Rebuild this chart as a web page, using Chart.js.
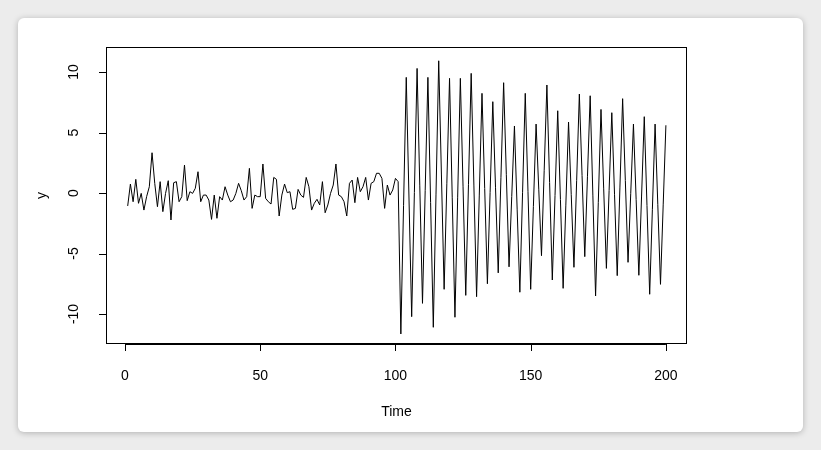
<!DOCTYPE html>
<html><head><meta charset="utf-8">
<script src="https://cdn.jsdelivr.net/npm/chart.js@4"></script>
<style>
html,body{margin:0;padding:0;background:#ececec;width:821px;height:450px;overflow:hidden}
#card{position:absolute;left:18px;top:18px;width:785px;height:414px;background:#fff;border-radius:6px;box-shadow:0 1px 6px rgba(0,0,0,0.25)}
#wrap{position:absolute;left:0;top:0;width:821px;height:450px}
</style></head><body>
<div id="card"></div>
<div id="wrap"><canvas id="c" width="821" height="450"></canvas></div>
<script>
const firstHalf=[-1.07,0.74,-0.72,1.13,-0.85,-0.03,-1.41,-0.30,0.52,3.33,0.8,-1.13,0.94,-1.54,-0.03,1.02,-2.23,0.85,0.94,-0.72,-0.30,2.31,-0.63,0.11,-0.03,0.39,1.76,-0.72,-0.17,-0.17,-0.58,-2.18,-0.17,-2.09,-0.30,-0.58,0.52,-0.17,-0.72,-0.58,-0.03,0.8,0.19,-0.58,-0.3,2.04,-1.27,-0.17,-0.3,-0.3,2.4,-0.44,-0.72,
-0.91,1.29,1.13,-1.9,-0.17,0.74,0.03,0.11,-1.35,-1.27,0.3,-0.17,-0.36,1.29,0.52,-1.41,-0.85,-0.52,-0.99,0.94,-1.63,-0.99,-0.03,0.66,2.4,-0.17,-0.3,-0.72,-1.9,0.8,1.07,-0.8,1.29,0.11,0.52,1.29,-0.58,0.8,0.94,1.63,1.63,1.21,-1.27,0.66,-0.17,0.25,1.21,0.94];
const secondHalf=[-11.65,-1.05,9.56,-0.33,-10.22,0.04,10.3,0.59,-9.12,0.22,9.56,-0.77,-11.1,-0.09,10.93,1.49,-7.96,0.76,9.48,-0.40,-10.27,-0.40,9.48,0.51,-8.46,0.72,9.89,0.66,-8.57,-0.17,8.24,0.37,-7.5,0.03,7.55,0.48,-6.6,1.26,9.12,1.51,-6.1,-0.28,5.54,-1.33,-8.2,0.02,8.24,0.14,-7.96,-1.13,5.7,0.26,-5.18,1.88,8.93,0.87,-7.19,-0.2,6.8,-0.54,-7.88,-1.0,5.87,-0.14,-6.14,1.02,8.18,1.46,-5.26,1.39,8.04,-0.24,-8.51,-0.8,6.91,0.34,-6.23,0.2,6.64,-0.1,-6.83,0.49,7.8,1.03,-5.73,-0.02,5.7,-0.55,-6.8,-0.25,6.31,-1.03,-8.37,-1.34,5.7,-0.93,-7.55,-0.98,5.6];
const yValues=firstHalf.concat(secondHalf);
const xTicks=[0,50,100,150,200];
const yTicks=[-10,-5,0,5,10];
const points=yValues.map((v,i)=>({x:i+1,y:v}));
const font='"Liberation Sans", Arial, sans-serif';
const axesPlugin={id:'rAxes',afterDraw(ch){
 const c=ch.ctx,a=ch.chartArea,xs=ch.scales.x,ys=ch.scales.y;
 c.save();c.strokeStyle='#000';c.lineWidth=1;c.fillStyle='#000';
 c.strokeRect(a.left+0.5,a.top+0.5,a.right-a.left-1,a.bottom-a.top-1);
 // x axis
 const xa=xs.getPixelForValue(xTicks[0]),xb=xs.getPixelForValue(xTicks[xTicks.length-1]);
 c.beginPath();c.moveTo(xa,a.bottom+0.5);c.lineTo(xb,a.bottom+0.5);
 xTicks.forEach(t=>{const p=Math.round(xs.getPixelForValue(t))+0.5;c.moveTo(p,a.bottom);c.lineTo(p,a.bottom+7);});
 c.stroke();
 c.font='14px '+font;c.textAlign='center';c.textBaseline='middle';
 xTicks.forEach(t=>c.fillText(String(t),xs.getPixelForValue(t),a.bottom+32));
 c.fillText('Time',(a.left+a.right)/2,412);
 // y axis
 const ya=ys.getPixelForValue(yTicks[0]),yb=ys.getPixelForValue(yTicks[yTicks.length-1]);
 c.beginPath();c.moveTo(a.left+0.5,ya);c.lineTo(a.left+0.5,yb);
 yTicks.forEach(t=>{const p=Math.round(ys.getPixelForValue(t))+0.5;c.moveTo(a.left,p);c.lineTo(a.left-7,p);});
 c.stroke();
 yTicks.forEach(t=>{c.save();c.translate(a.left-32,ys.getPixelForValue(t));c.rotate(-Math.PI/2);c.fillText(String(t).replace('-','-'),0,0);c.restore();});
 c.save();c.translate(42,(a.top+a.bottom)/2);c.rotate(-Math.PI/2);c.fillText('y',0,0);c.restore();
 c.restore();
}};
new Chart(document.getElementById('c'),{
 type:'line',
 data:{datasets:[{data:points,borderColor:'#000',borderWidth:1,pointRadius:0,tension:0,fill:false}]},
 options:{responsive:false,animation:false,
  layout:{padding:{left:106,right:134,top:47,bottom:106}},
  plugins:{legend:{display:false},tooltip:{enabled:false}},
  scales:{x:{type:'linear',display:false,min:-7.02,max:207.8},
          y:{type:'linear',display:false,min:-12.48,max:12.07}}},
 plugins:[axesPlugin]
});
</script></body></html>
